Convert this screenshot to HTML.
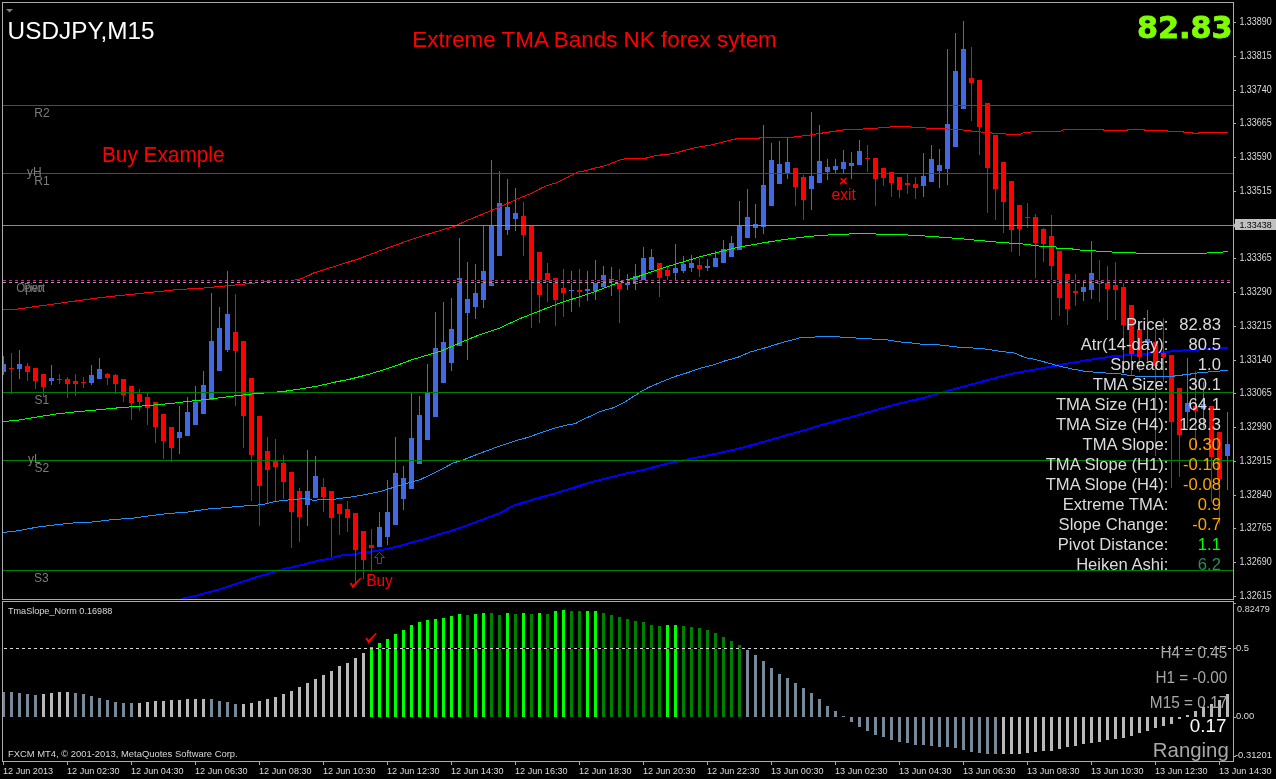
<!DOCTYPE html>
<html><head><meta charset="utf-8"><title>USDJPY,M15</title><style>html,body{margin:0;padding:0;background:#000;width:1276px;height:779px;overflow:hidden}</style></head><body>
<svg width="1276" height="779" viewBox="0 0 1276 779" style="display:block">
<defs><clipPath id="cm"><rect x="3" y="3" width="1230" height="596"/></clipPath><clipPath id="cs"><rect x="3" y="602" width="1230" height="159"/></clipPath></defs>
<rect x="0" y="0" width="1276" height="779" fill="#000"/>
<g clip-path="url(#cm)">
<polyline fill="none" stroke="#0000FF" stroke-width="2" shape-rendering="crispEdges" points="178.0,601.0 183.8,598.3 192.5,596.7 205.1,593.3 217.6,589.9 230.2,586.0 242.7,581.7 255.2,577.6 267.8,573.9 280.3,569.9 292.9,567.0 305.4,564.1 317.9,560.7 330.5,558.6 340.0,555.6 352.5,554.6 365.1,552.1 377.6,550.8 390.2,548.3 402.7,545.2 415.2,541.4 427.8,538.3 440.3,533.9 452.9,530.4 465.4,526.1 477.9,521.3 490.5,516.6 500.0,513.2 512.8,506.0 531.7,499.9 550.5,494.8 569.3,489.2 588.0,483.1 607.0,478.2 625.7,473.5 640.0,470.8 665.1,464.2 690.2,458.9 715.2,453.9 740.3,448.3 765.4,441.4 790.5,434.1 800.0,431.5 825.1,424.0 850.2,417.4 875.2,410.2 900.3,403.3 925.4,397.4 938.0,393.6 950.5,390.1 960.0,387.6 985.1,380.8 1010.2,374.1 1035.2,369.5 1060.3,364.9 1085.4,360.5 1110.5,356.6 1120.0,355.7 1140.0,354.4 1160.0,352.3 1180.0,350.7 1228.0,347.9"/>
<g shape-rendering="crispEdges">
<rect x="3" y="356" width="1" height="19" fill="#4169E1"/>
<rect x="1" y="364" width="5" height="8" fill="#4169E1"/>
<rect x="11" y="353" width="1" height="41" fill="#FF0000"/>
<rect x="9" y="368" width="5" height="1" fill="#FF0000"/>
<rect x="19" y="350" width="1" height="29" fill="#4169E1"/>
<rect x="17" y="364" width="5" height="5" fill="#4169E1"/>
<rect x="27" y="363" width="1" height="18" fill="#FF0000"/>
<rect x="25" y="366" width="5" height="6" fill="#FF0000"/>
<rect x="35" y="368" width="1" height="21" fill="#FF0000"/>
<rect x="33" y="368" width="5" height="13" fill="#FF0000"/>
<rect x="43" y="374" width="1" height="23" fill="#FF0000"/>
<rect x="41" y="374" width="5" height="13" fill="#FF0000"/>
<rect x="51" y="365" width="1" height="20" fill="#4169E1"/>
<rect x="49" y="378" width="5" height="3" fill="#4169E1"/>
<rect x="59" y="374" width="1" height="10" fill="#FF0000"/>
<rect x="57" y="379" width="5" height="1" fill="#FF0000"/>
<rect x="67" y="377" width="1" height="21" fill="#FF0000"/>
<rect x="65" y="379" width="5" height="5" fill="#FF0000"/>
<rect x="75" y="374" width="1" height="22" fill="#FF0000"/>
<rect x="73" y="381" width="5" height="3" fill="#FF0000"/>
<rect x="83" y="377" width="1" height="11" fill="#FF0000"/>
<rect x="81" y="382" width="5" height="1" fill="#FF0000"/>
<rect x="91" y="365" width="1" height="20" fill="#4169E1"/>
<rect x="89" y="375" width="5" height="8" fill="#4169E1"/>
<rect x="99" y="358" width="1" height="21" fill="#4169E1"/>
<rect x="97" y="369" width="5" height="10" fill="#4169E1"/>
<rect x="107" y="373" width="1" height="12" fill="#FF0000"/>
<rect x="105" y="374" width="5" height="4" fill="#FF0000"/>
<rect x="115" y="374" width="1" height="20" fill="#FF0000"/>
<rect x="113" y="375" width="5" height="9" fill="#FF0000"/>
<rect x="123" y="379" width="1" height="23" fill="#FF0000"/>
<rect x="121" y="379" width="5" height="16" fill="#FF0000"/>
<rect x="131" y="386" width="1" height="34" fill="#FF0000"/>
<rect x="129" y="386" width="5" height="17" fill="#FF0000"/>
<rect x="139" y="389" width="1" height="22" fill="#FF0000"/>
<rect x="137" y="394" width="5" height="8" fill="#FF0000"/>
<rect x="147" y="393" width="1" height="32" fill="#FF0000"/>
<rect x="145" y="397" width="5" height="11" fill="#FF0000"/>
<rect x="155" y="402" width="1" height="41" fill="#FF0000"/>
<rect x="153" y="402" width="5" height="25" fill="#FF0000"/>
<rect x="163" y="414" width="1" height="45" fill="#FF0000"/>
<rect x="161" y="414" width="5" height="27" fill="#FF0000"/>
<rect x="171" y="427" width="1" height="35" fill="#FF0000"/>
<rect x="169" y="427" width="5" height="21" fill="#FF0000"/>
<rect x="179" y="406" width="1" height="48" fill="#4169E1"/>
<rect x="177" y="432" width="5" height="6" fill="#4169E1"/>
<rect x="187" y="397" width="1" height="39" fill="#4169E1"/>
<rect x="185" y="412" width="5" height="24" fill="#4169E1"/>
<rect x="195" y="386" width="1" height="39" fill="#4169E1"/>
<rect x="193" y="402" width="5" height="23" fill="#4169E1"/>
<rect x="203" y="371" width="1" height="43" fill="#4169E1"/>
<rect x="201" y="385" width="5" height="29" fill="#4169E1"/>
<rect x="211" y="293" width="1" height="107" fill="#4169E1"/>
<rect x="209" y="341" width="5" height="59" fill="#4169E1"/>
<rect x="219" y="307" width="1" height="64" fill="#4169E1"/>
<rect x="217" y="328" width="5" height="43" fill="#4169E1"/>
<rect x="227" y="271" width="1" height="81" fill="#4169E1"/>
<rect x="225" y="314" width="5" height="36" fill="#4169E1"/>
<rect x="235" y="294" width="1" height="112" fill="#FF0000"/>
<rect x="233" y="332" width="5" height="19" fill="#FF0000"/>
<rect x="243" y="341" width="1" height="107" fill="#FF0000"/>
<rect x="241" y="341" width="5" height="75" fill="#FF0000"/>
<rect x="251" y="378" width="1" height="123" fill="#FF0000"/>
<rect x="249" y="378" width="5" height="77" fill="#FF0000"/>
<rect x="259" y="416" width="1" height="110" fill="#FF0000"/>
<rect x="257" y="416" width="5" height="70" fill="#FF0000"/>
<rect x="267" y="437" width="1" height="66" fill="#FF0000"/>
<rect x="265" y="451" width="5" height="19" fill="#FF0000"/>
<rect x="275" y="439" width="1" height="63" fill="#FF0000"/>
<rect x="273" y="461" width="5" height="6" fill="#FF0000"/>
<rect x="283" y="455" width="1" height="44" fill="#FF0000"/>
<rect x="281" y="463" width="5" height="19" fill="#FF0000"/>
<rect x="291" y="472" width="1" height="76" fill="#FF0000"/>
<rect x="289" y="472" width="5" height="40" fill="#FF0000"/>
<rect x="299" y="488" width="1" height="54" fill="#FF0000"/>
<rect x="297" y="491" width="5" height="26" fill="#FF0000"/>
<rect x="307" y="450" width="1" height="76" fill="#4169E1"/>
<rect x="305" y="491" width="5" height="14" fill="#4169E1"/>
<rect x="315" y="456" width="1" height="42" fill="#4169E1"/>
<rect x="313" y="476" width="5" height="22" fill="#4169E1"/>
<rect x="323" y="478" width="1" height="34" fill="#FF0000"/>
<rect x="321" y="487" width="5" height="10" fill="#FF0000"/>
<rect x="331" y="491" width="1" height="66" fill="#FF0000"/>
<rect x="329" y="491" width="5" height="27" fill="#FF0000"/>
<rect x="339" y="504" width="1" height="31" fill="#FF0000"/>
<rect x="337" y="504" width="5" height="10" fill="#FF0000"/>
<rect x="347" y="501" width="1" height="31" fill="#FF0000"/>
<rect x="345" y="509" width="5" height="9" fill="#FF0000"/>
<rect x="355" y="513" width="1" height="70" fill="#FF0000"/>
<rect x="353" y="513" width="5" height="37" fill="#FF0000"/>
<rect x="363" y="531" width="1" height="48" fill="#FF0000"/>
<rect x="361" y="531" width="5" height="29" fill="#FF0000"/>
<rect x="371" y="529" width="1" height="43" fill="#FF0000"/>
<rect x="369" y="545" width="5" height="3" fill="#FF0000"/>
<rect x="379" y="512" width="1" height="35" fill="#4169E1"/>
<rect x="377" y="527" width="5" height="20" fill="#4169E1"/>
<rect x="387" y="480" width="1" height="65" fill="#4169E1"/>
<rect x="385" y="512" width="5" height="25" fill="#4169E1"/>
<rect x="395" y="437" width="1" height="88" fill="#4169E1"/>
<rect x="393" y="473" width="5" height="52" fill="#4169E1"/>
<rect x="403" y="466" width="1" height="44" fill="#4169E1"/>
<rect x="401" y="478" width="5" height="21" fill="#4169E1"/>
<rect x="411" y="393" width="1" height="96" fill="#4169E1"/>
<rect x="409" y="438" width="5" height="51" fill="#4169E1"/>
<rect x="419" y="396" width="1" height="68" fill="#4169E1"/>
<rect x="417" y="415" width="5" height="49" fill="#4169E1"/>
<rect x="427" y="364" width="1" height="76" fill="#4169E1"/>
<rect x="425" y="393" width="5" height="47" fill="#4169E1"/>
<rect x="435" y="312" width="1" height="105" fill="#4169E1"/>
<rect x="433" y="348" width="5" height="69" fill="#4169E1"/>
<rect x="443" y="302" width="1" height="81" fill="#4169E1"/>
<rect x="441" y="342" width="5" height="41" fill="#4169E1"/>
<rect x="451" y="298" width="1" height="73" fill="#4169E1"/>
<rect x="449" y="329" width="5" height="34" fill="#4169E1"/>
<rect x="459" y="238" width="1" height="108" fill="#4169E1"/>
<rect x="457" y="278" width="5" height="68" fill="#4169E1"/>
<rect x="467" y="262" width="1" height="98" fill="#4169E1"/>
<rect x="465" y="299" width="5" height="14" fill="#4169E1"/>
<rect x="475" y="264" width="1" height="55" fill="#4169E1"/>
<rect x="473" y="293" width="5" height="14" fill="#4169E1"/>
<rect x="483" y="226" width="1" height="82" fill="#4169E1"/>
<rect x="481" y="271" width="5" height="29" fill="#4169E1"/>
<rect x="491" y="160" width="1" height="126" fill="#4169E1"/>
<rect x="489" y="225" width="5" height="61" fill="#4169E1"/>
<rect x="499" y="171" width="1" height="85" fill="#4169E1"/>
<rect x="497" y="203" width="5" height="53" fill="#4169E1"/>
<rect x="507" y="179" width="1" height="56" fill="#4169E1"/>
<rect x="505" y="207" width="5" height="23" fill="#4169E1"/>
<rect x="515" y="188" width="1" height="43" fill="#4169E1"/>
<rect x="513" y="213" width="5" height="6" fill="#4169E1"/>
<rect x="523" y="202" width="1" height="54" fill="#FF0000"/>
<rect x="521" y="216" width="5" height="19" fill="#FF0000"/>
<rect x="531" y="225" width="1" height="103" fill="#FF0000"/>
<rect x="529" y="225" width="5" height="55" fill="#FF0000"/>
<rect x="539" y="252" width="1" height="71" fill="#FF0000"/>
<rect x="537" y="252" width="5" height="43" fill="#FF0000"/>
<rect x="547" y="263" width="1" height="39" fill="#FF0000"/>
<rect x="545" y="273" width="5" height="10" fill="#FF0000"/>
<rect x="555" y="278" width="1" height="48" fill="#FF0000"/>
<rect x="553" y="278" width="5" height="22" fill="#FF0000"/>
<rect x="563" y="269" width="1" height="48" fill="#FF0000"/>
<rect x="561" y="288" width="5" height="5" fill="#FF0000"/>
<rect x="571" y="271" width="1" height="41" fill="#4169E1"/>
<rect x="569" y="290" width="5" height="1" fill="#4169E1"/>
<rect x="579" y="269" width="1" height="38" fill="#FF0000"/>
<rect x="577" y="290" width="5" height="2" fill="#FF0000"/>
<rect x="587" y="271" width="1" height="30" fill="#4169E1"/>
<rect x="585" y="289" width="5" height="2" fill="#4169E1"/>
<rect x="595" y="260" width="1" height="40" fill="#4169E1"/>
<rect x="593" y="283" width="5" height="8" fill="#4169E1"/>
<rect x="603" y="266" width="1" height="21" fill="#4169E1"/>
<rect x="601" y="275" width="5" height="12" fill="#4169E1"/>
<rect x="611" y="267" width="1" height="29" fill="#4169E1"/>
<rect x="609" y="279" width="5" height="3" fill="#4169E1"/>
<rect x="619" y="269" width="1" height="54" fill="#FF0000"/>
<rect x="617" y="282" width="5" height="7" fill="#FF0000"/>
<rect x="627" y="274" width="1" height="16" fill="#4169E1"/>
<rect x="625" y="283" width="5" height="2" fill="#4169E1"/>
<rect x="635" y="264" width="1" height="26" fill="#4169E1"/>
<rect x="633" y="276" width="5" height="8" fill="#4169E1"/>
<rect x="643" y="247" width="1" height="33" fill="#4169E1"/>
<rect x="641" y="258" width="5" height="22" fill="#4169E1"/>
<rect x="651" y="249" width="1" height="21" fill="#4169E1"/>
<rect x="649" y="257" width="5" height="13" fill="#4169E1"/>
<rect x="659" y="263" width="1" height="34" fill="#FF0000"/>
<rect x="657" y="263" width="5" height="15" fill="#FF0000"/>
<rect x="667" y="267" width="1" height="14" fill="#FF0000"/>
<rect x="665" y="270" width="5" height="6" fill="#FF0000"/>
<rect x="675" y="244" width="1" height="37" fill="#4169E1"/>
<rect x="673" y="268" width="5" height="5" fill="#4169E1"/>
<rect x="683" y="256" width="1" height="17" fill="#4169E1"/>
<rect x="681" y="264" width="5" height="7" fill="#4169E1"/>
<rect x="691" y="255" width="1" height="17" fill="#4169E1"/>
<rect x="689" y="263" width="5" height="5" fill="#4169E1"/>
<rect x="699" y="258" width="1" height="19" fill="#FF0000"/>
<rect x="697" y="265" width="5" height="4" fill="#FF0000"/>
<rect x="707" y="259" width="1" height="12" fill="#4169E1"/>
<rect x="705" y="266" width="5" height="2" fill="#4169E1"/>
<rect x="715" y="251" width="1" height="16" fill="#4169E1"/>
<rect x="713" y="258" width="5" height="9" fill="#4169E1"/>
<rect x="723" y="240" width="1" height="23" fill="#4169E1"/>
<rect x="721" y="249" width="5" height="14" fill="#4169E1"/>
<rect x="731" y="236" width="1" height="21" fill="#4169E1"/>
<rect x="729" y="243" width="5" height="14" fill="#4169E1"/>
<rect x="739" y="201" width="1" height="49" fill="#4169E1"/>
<rect x="737" y="225" width="5" height="25" fill="#4169E1"/>
<rect x="747" y="189" width="1" height="49" fill="#4169E1"/>
<rect x="745" y="217" width="5" height="21" fill="#4169E1"/>
<rect x="755" y="204" width="1" height="34" fill="#4169E1"/>
<rect x="753" y="224" width="5" height="4" fill="#4169E1"/>
<rect x="763" y="125" width="1" height="109" fill="#4169E1"/>
<rect x="761" y="185" width="5" height="42" fill="#4169E1"/>
<rect x="771" y="143" width="1" height="63" fill="#4169E1"/>
<rect x="769" y="160" width="5" height="46" fill="#4169E1"/>
<rect x="779" y="141" width="1" height="43" fill="#4169E1"/>
<rect x="777" y="164" width="5" height="20" fill="#4169E1"/>
<rect x="787" y="138" width="1" height="41" fill="#4169E1"/>
<rect x="785" y="162" width="5" height="11" fill="#4169E1"/>
<rect x="795" y="168" width="1" height="38" fill="#FF0000"/>
<rect x="793" y="168" width="5" height="19" fill="#FF0000"/>
<rect x="803" y="175" width="1" height="45" fill="#FF0000"/>
<rect x="801" y="177" width="5" height="23" fill="#FF0000"/>
<rect x="811" y="112" width="1" height="98" fill="#4169E1"/>
<rect x="809" y="176" width="5" height="13" fill="#4169E1"/>
<rect x="819" y="125" width="1" height="58" fill="#4169E1"/>
<rect x="817" y="161" width="5" height="22" fill="#4169E1"/>
<rect x="827" y="159" width="1" height="21" fill="#4169E1"/>
<rect x="825" y="167" width="5" height="5" fill="#4169E1"/>
<rect x="835" y="159" width="1" height="14" fill="#4169E1"/>
<rect x="833" y="166" width="5" height="4" fill="#4169E1"/>
<rect x="843" y="150" width="1" height="23" fill="#4169E1"/>
<rect x="841" y="162" width="5" height="7" fill="#4169E1"/>
<rect x="851" y="152" width="1" height="27" fill="#4169E1"/>
<rect x="849" y="163" width="5" height="3" fill="#4169E1"/>
<rect x="859" y="140" width="1" height="25" fill="#4169E1"/>
<rect x="857" y="151" width="5" height="14" fill="#4169E1"/>
<rect x="867" y="145" width="1" height="27" fill="#FF0000"/>
<rect x="865" y="158" width="5" height="1" fill="#FF0000"/>
<rect x="875" y="158" width="1" height="48" fill="#FF0000"/>
<rect x="873" y="158" width="5" height="21" fill="#FF0000"/>
<rect x="883" y="168" width="1" height="18" fill="#FF0000"/>
<rect x="881" y="168" width="5" height="10" fill="#FF0000"/>
<rect x="891" y="172" width="1" height="25" fill="#FF0000"/>
<rect x="889" y="172" width="5" height="11" fill="#FF0000"/>
<rect x="899" y="177" width="1" height="21" fill="#FF0000"/>
<rect x="897" y="177" width="5" height="13" fill="#FF0000"/>
<rect x="907" y="174" width="1" height="20" fill="#FF0000"/>
<rect x="905" y="183" width="5" height="2" fill="#FF0000"/>
<rect x="915" y="177" width="1" height="22" fill="#FF0000"/>
<rect x="913" y="184" width="5" height="4" fill="#FF0000"/>
<rect x="923" y="153" width="1" height="44" fill="#4169E1"/>
<rect x="921" y="176" width="5" height="10" fill="#4169E1"/>
<rect x="931" y="145" width="1" height="37" fill="#4169E1"/>
<rect x="929" y="159" width="5" height="23" fill="#4169E1"/>
<rect x="939" y="149" width="1" height="39" fill="#4169E1"/>
<rect x="937" y="165" width="5" height="6" fill="#4169E1"/>
<rect x="947" y="49" width="1" height="136" fill="#4169E1"/>
<rect x="945" y="124" width="5" height="45" fill="#4169E1"/>
<rect x="955" y="33" width="1" height="114" fill="#4169E1"/>
<rect x="953" y="71" width="5" height="76" fill="#4169E1"/>
<rect x="963" y="21" width="1" height="88" fill="#4169E1"/>
<rect x="961" y="49" width="5" height="60" fill="#4169E1"/>
<rect x="971" y="47" width="1" height="74" fill="#FF0000"/>
<rect x="969" y="78" width="5" height="5" fill="#FF0000"/>
<rect x="979" y="80" width="1" height="75" fill="#FF0000"/>
<rect x="977" y="80" width="5" height="47" fill="#FF0000"/>
<rect x="987" y="103" width="1" height="110" fill="#FF0000"/>
<rect x="985" y="103" width="5" height="65" fill="#FF0000"/>
<rect x="995" y="135" width="1" height="85" fill="#FF0000"/>
<rect x="993" y="135" width="5" height="54" fill="#FF0000"/>
<rect x="1003" y="162" width="1" height="71" fill="#FF0000"/>
<rect x="1001" y="162" width="5" height="40" fill="#FF0000"/>
<rect x="1011" y="181" width="1" height="71" fill="#FF0000"/>
<rect x="1009" y="181" width="5" height="49" fill="#FF0000"/>
<rect x="1019" y="205" width="1" height="51" fill="#FF0000"/>
<rect x="1017" y="205" width="5" height="24" fill="#FF0000"/>
<rect x="1027" y="203" width="1" height="25" fill="#FF0000"/>
<rect x="1025" y="217" width="5" height="1" fill="#FF0000"/>
<rect x="1035" y="214" width="1" height="64" fill="#FF0000"/>
<rect x="1033" y="217" width="5" height="26" fill="#FF0000"/>
<rect x="1043" y="228" width="1" height="34" fill="#FF0000"/>
<rect x="1041" y="229" width="5" height="15" fill="#FF0000"/>
<rect x="1051" y="215" width="1" height="105" fill="#FF0000"/>
<rect x="1049" y="236" width="5" height="30" fill="#FF0000"/>
<rect x="1059" y="251" width="1" height="65" fill="#FF0000"/>
<rect x="1057" y="251" width="5" height="47" fill="#FF0000"/>
<rect x="1067" y="274" width="1" height="51" fill="#FF0000"/>
<rect x="1065" y="274" width="5" height="35" fill="#FF0000"/>
<rect x="1075" y="274" width="1" height="32" fill="#FF0000"/>
<rect x="1073" y="291" width="5" height="2" fill="#FF0000"/>
<rect x="1083" y="281" width="1" height="20" fill="#4169E1"/>
<rect x="1081" y="287" width="5" height="5" fill="#4169E1"/>
<rect x="1091" y="241" width="1" height="58" fill="#4169E1"/>
<rect x="1089" y="273" width="5" height="17" fill="#4169E1"/>
<rect x="1099" y="260" width="1" height="42" fill="#FF0000"/>
<rect x="1097" y="281" width="5" height="3" fill="#FF0000"/>
<rect x="1107" y="266" width="1" height="54" fill="#FF0000"/>
<rect x="1105" y="283" width="5" height="6" fill="#FF0000"/>
<rect x="1115" y="262" width="1" height="58" fill="#FF0000"/>
<rect x="1113" y="285" width="5" height="5" fill="#FF0000"/>
<rect x="1123" y="283" width="1" height="79" fill="#FF0000"/>
<rect x="1121" y="287" width="5" height="38" fill="#FF0000"/>
<rect x="1131" y="305" width="1" height="70" fill="#FF0000"/>
<rect x="1129" y="305" width="5" height="49" fill="#FF0000"/>
<rect x="1139" y="328" width="1" height="44" fill="#FF0000"/>
<rect x="1137" y="329" width="5" height="28" fill="#FF0000"/>
<rect x="1147" y="310" width="1" height="51" fill="#4169E1"/>
<rect x="1145" y="339" width="5" height="4" fill="#4169E1"/>
<rect x="1155" y="329" width="1" height="127" fill="#FF0000"/>
<rect x="1153" y="342" width="5" height="24" fill="#FF0000"/>
<rect x="1163" y="318" width="1" height="64" fill="#FF0000"/>
<rect x="1161" y="353" width="5" height="4" fill="#FF0000"/>
<rect x="1171" y="355" width="1" height="133" fill="#FF0000"/>
<rect x="1169" y="355" width="5" height="67" fill="#FF0000"/>
<rect x="1179" y="388" width="1" height="89" fill="#FF0000"/>
<rect x="1177" y="388" width="5" height="47" fill="#FF0000"/>
<rect x="1187" y="358" width="1" height="70" fill="#4169E1"/>
<rect x="1185" y="403" width="5" height="9" fill="#4169E1"/>
<rect x="1195" y="371" width="1" height="79" fill="#FF0000"/>
<rect x="1193" y="406" width="5" height="5" fill="#FF0000"/>
<rect x="1203" y="382" width="1" height="46" fill="#4169E1"/>
<rect x="1201" y="404" width="5" height="5" fill="#4169E1"/>
<rect x="1211" y="406" width="1" height="96" fill="#FF0000"/>
<rect x="1209" y="406" width="5" height="51" fill="#FF0000"/>
<rect x="1219" y="432" width="1" height="92" fill="#FF0000"/>
<rect x="1217" y="432" width="5" height="47" fill="#FF0000"/>
<rect x="1227" y="412" width="1" height="78" fill="#4169E1"/>
<rect x="1225" y="444" width="5" height="12" fill="#4169E1"/>
</g>
<g fill="none" stroke-width="1" shape-rendering="crispEdges">
<polyline stroke="#FF0000" points="2.0,309.4 15.0,309.4 100.0,297.6 180.0,289.3 200.0,288.4 240.0,284.5 251.0,283.5 259.0,282.5 267.0,281.5 278.0,280.5 292.0,280.5 298.0,279.5 302.0,278.3 306.0,276.5 310.0,274.8 314.0,272.8 320.0,271.0 330.0,267.8 340.0,264.8 350.0,261.5 360.0,258.3 375.4,252.5 391.0,246.7 406.7,241.2 422.4,235.8 438.0,231.2 454.0,226.4 467.0,220.5 480.0,215.2 492.5,210.0 505.1,204.6 517.6,198.9 530.2,193.9 542.7,187.4 550.2,184.5 555.2,183.3 567.8,177.0 577.8,172.0 586.6,170.5 592.9,168.6 605.4,165.7 617.9,160.7 625.5,158.6 645.0,158.5 648.0,157.5 657.0,155.3 669.0,154.3 673.0,153.4 681.0,151.4 689.0,149.3 697.0,147.3 703.0,146.3 709.0,145.4 717.0,143.4 725.0,141.4 729.0,140.4 735.0,139.4 736.0,138.5 759.0,138.5 760.0,137.5 790.0,137.5 809.0,135.1 823.2,132.9 837.3,130.9 843.0,130.0 871.2,128.6 893.8,126.7 902.3,126.4 927.7,128.1 944.7,128.9 961.6,129.8 966.0,130.5 972.9,131.2 989.9,132.9 1000.0,133.5 1010.0,134.4 1020.0,134.4 1024.0,132.6 1039.0,131.3 1060.0,131.3 1065.0,129.4 1103.0,129.4 1104.0,130.3 1127.0,130.3 1128.0,129.4 1144.0,129.4 1145.0,130.3 1167.0,130.3 1168.0,131.4 1183.0,131.4 1184.0,132.4 1192.0,132.4 1193.0,133.5 1198.0,133.5 1199.0,132.4 1228.0,132.4"/>
<polyline stroke="#00FF00" points="2.0,421.6 18.8,420.1 37.6,416.9 56.4,414.0 75.2,411.9 94.0,410.2 112.8,408.3 131.7,406.8 150.5,405.3 169.3,403.6 188.0,401.5 207.0,399.3 225.7,397.1 240.0,395.3 255.7,393.6 271.3,392.5 283.9,391.4 302.7,388.6 318.4,385.9 334.0,382.3 349.7,379.2 365.4,375.3 381.0,370.6 396.7,365.4 412.4,359.6 428.0,354.9 440.0,351.5 470.0,338.6 480.0,334.6 500.0,327.9 520.0,318.6 560.0,303.0 575.7,298.0 591.3,293.0 607.0,287.0 622.7,281.1 638.4,276.4 654.0,271.0 669.7,265.9 685.4,261.2 701.0,256.5 716.7,252.5 732.4,248.6 748.0,245.5 760.0,243.4 780.7,240.0 801.0,237.3 821.5,235.3 841.9,234.3 862.2,233.4 882.6,234.3 903.0,234.7 923.4,235.9 943.7,237.3 964.0,239.0 984.5,241.0 1000.0,242.4 1020.0,243.7 1040.0,246.1 1055.5,246.1 1056.5,248.1 1071.5,248.1 1072.5,249.2 1079.5,249.2 1080.5,250.3 1095.5,250.3 1096.5,251.5 1111.5,251.5 1112.5,252.4 1135.5,252.4 1136.5,253.3 1206.5,253.3 1207.5,252.4 1222.5,252.4 1223.5,251.4 1228.0,251.4"/>
<polyline stroke="#1E90FF" points="2.0,532.6 18.8,530.7 37.6,527.0 56.4,524.7 75.2,522.8 94.0,521.9 112.8,519.5 131.7,518.3 150.5,515.7 169.3,513.4 188.0,512.0 207.0,509.1 225.7,507.6 240.0,506.3 262.4,504.7 276.2,501.3 294.7,499.3 307.0,498.5 312.3,500.2 334.0,499.3 350.8,497.0 364.7,494.7 380.0,491.6 400.0,485.4 420.0,479.7 440.0,470.2 452.5,463.3 465.1,459.2 477.6,454.2 490.2,449.5 502.7,445.1 515.2,440.8 527.8,437.4 540.3,432.9 552.9,428.6 565.4,425.3 575.4,423.6 581.7,420.1 590.5,416.1 600.0,411.5 612.5,408.0 625.1,402.1 631.3,397.7 637.6,394.0 643.9,389.9 650.2,386.7 662.7,381.4 675.2,376.4 687.8,372.6 700.3,368.2 712.9,365.1 725.4,360.7 737.9,357.3 750.5,351.9 760.0,349.3 769.4,346.6 781.9,342.6 794.5,339.4 801.0,337.4 814.5,337.4 815.5,336.5 839.5,336.5 840.5,337.4 855.5,337.4 856.5,338.5 871.5,338.5 872.5,339.5 885.4,339.5 890.0,340.5 896.4,341.4 904.2,342.5 919.5,343.5 920.5,344.4 935.5,344.5 944.2,345.5 952.0,346.4 960.0,347.3 967.5,347.6 983.8,348.8 1000.1,351.3 1015.2,353.2 1025.2,357.6 1035.2,359.5 1047.8,362.9 1060.3,366.4 1072.9,369.1 1085.4,371.4 1097.9,372.4 1110.5,373.3 1120.0,373.8 1130.0,375.5 1140.0,376.5 1174.0,376.5 1175.0,375.5 1182.0,375.5 1183.0,374.5 1190.0,374.5 1191.0,373.5 1228.0,370.3"/>
</g>
<g shape-rendering="crispEdges">
<rect x="3" y="105" width="1230" height="1" fill="#B22222"/>
<rect x="3" y="173" width="1230" height="1" fill="#B22222"/>
<rect x="3" y="392" width="1230" height="1" fill="#008000"/>
<rect x="3" y="460" width="1230" height="1" fill="#008000"/>
<rect x="3" y="570" width="1230" height="1" fill="#008000"/>
<rect x="3" y="225" width="1230" height="1" fill="#6A8EC8"/>
<rect x="3" y="280" width="1230" height="1" fill="#000"/>
<rect x="3" y="282" width="1230" height="1" fill="#000"/>
<line x1="3" y1="280.5" x2="1233" y2="280.5" stroke="#D81E9E" stroke-width="1" stroke-dasharray="3 3"/>
<line x1="3" y1="282.5" x2="1233" y2="282.5" stroke="#A0A0A0" stroke-width="1" stroke-dasharray="3 3"/>
</g>
<g font-family="'Liberation Sans', Arial, sans-serif" font-size="12px" fill="#7C7C7C">
<text x="34.3" y="117.2">R2</text>
<text x="27.1" y="175.9">yH</text>
<text x="34.3" y="185.0">R1</text>
<text x="34.4" y="404.0">S1</text>
<text x="28.0" y="463.4">yL</text>
<text x="34.4" y="471.8">S2</text>
<text x="34.0" y="581.8">S3</text>
<text x="16.3" y="291.8" fill="#747474" textLength="28" lengthAdjust="spacingAndGlyphs">Open</text>
<text x="24" y="291.8" fill="#747474" textLength="21" lengthAdjust="spacingAndGlyphs">Pivot</text>
</g>
<path transform="translate(349.6,578.0)" d="M0.2,5.6 C0.8,4.6 1.6,4.6 2.2,5.2 L3.4,7.0 L10.6,-0.2 L11.6,0.6 L3.8,9.9 L3.0,10.1 Z" fill="#FF0000"/>
<g fill="none" stroke="#FF0000" stroke-width="1">
<path d="M379.5,552.5 L384.5,557.5 L381.5,557.5 L381.5,563.5 L377.5,563.5 L377.5,557.5 L374.5,557.5 Z"/>
</g>
<g font-family="'Liberation Sans', Arial, sans-serif" fill="#FF0000">
<text x="366.2" y="585.8" font-size="16.4px" textLength="26.5" lengthAdjust="spacingAndGlyphs">Buy</text>
<text x="831.6" y="200.4" font-size="15.6px">exit</text>
</g>
<path d="M840.5,178.5 C842,179 843,180.5 843.5,181 C844.5,180 845.5,178.8 846.5,178.3 M840,184 C841.5,183 842.5,182 843.5,181 C844.5,182 845.5,183.3 847,183.6" fill="none" stroke="#FF0000" stroke-width="1.7"/>
<text x="412.3" y="46.6" font-family="'Liberation Sans', Arial, sans-serif" font-size="22.7px" fill="#FF0000" textLength="364.5" lengthAdjust="spacingAndGlyphs">Extreme TMA Bands NK forex sytem</text>
<text x="102" y="161.7" font-family="'Liberation Sans', Arial, sans-serif" font-size="22.7px" fill="#FF0000" textLength="122.5" lengthAdjust="spacingAndGlyphs">Buy Example</text>
<g font-family="'Liberation Sans', Arial, sans-serif" font-size="16.6px" text-anchor="end">
<text x="1168.4" y="329.7" fill="#DCDCDC">Price:</text>
<text x="1220.9" y="329.7" fill="#DCDCDC">82.83</text>
<text x="1168.4" y="349.7" fill="#DCDCDC">Atr(14-day):</text>
<text x="1220.9" y="349.7" fill="#DCDCDC">80.5</text>
<text x="1168.4" y="369.7" fill="#DCDCDC">Spread:</text>
<text x="1220.9" y="369.7" fill="#DCDCDC">1.0</text>
<text x="1168.4" y="389.7" fill="#DCDCDC">TMA Size:</text>
<text x="1220.9" y="389.7" fill="#DCDCDC">30.1</text>
<text x="1168.4" y="409.7" fill="#DCDCDC">TMA Size (H1):</text>
<text x="1220.9" y="409.7" fill="#DCDCDC">64.1</text>
<text x="1168.4" y="429.7" fill="#DCDCDC">TMA Size (H4):</text>
<text x="1220.9" y="429.7" fill="#DCDCDC">128.3</text>
<text x="1168.4" y="449.7" fill="#DCDCDC">TMA Slope:</text>
<text x="1220.9" y="449.7" fill="#FFA500">0.30</text>
<text x="1168.4" y="469.7" fill="#DCDCDC">TMA Slope (H1):</text>
<text x="1220.9" y="469.7" fill="#FFA500">-0.16</text>
<text x="1168.4" y="489.7" fill="#DCDCDC">TMA Slope (H4):</text>
<text x="1220.9" y="489.7" fill="#FFA500">-0.08</text>
<text x="1168.4" y="509.7" fill="#DCDCDC">Extreme TMA:</text>
<text x="1220.9" y="509.7" fill="#FFA500">0.9</text>
<text x="1168.4" y="529.7" fill="#DCDCDC">Slope Change:</text>
<text x="1220.9" y="529.7" fill="#FFA500">-0.7</text>
<text x="1168.4" y="549.7" fill="#DCDCDC">Pivot Distance:</text>
<text x="1220.9" y="549.7" fill="#00FF00">1.1</text>
<text x="1168.4" y="569.7" fill="#DCDCDC">Heiken Ashi:</text>
<text x="1220.9" y="569.7" fill="#2E8B57">6.2</text>
</g>
</g>
<path d="M6,9 L13,9 L9.5,12.5 Z" fill="#808080"/>
<text x="7.6" y="38.8" font-family="'Liberation Sans', Arial, sans-serif" font-size="24.4px" fill="#FFFFFF" textLength="147" lengthAdjust="spacingAndGlyphs">USDJPY,M15</text>
<text x="1136.9" y="38.4" font-family="'DejaVu Sans', sans-serif" font-weight="bold" font-size="30.6px" fill="#7FFF00" stroke="#7FFF00" stroke-width="0.8" textLength="95.7" lengthAdjust="spacingAndGlyphs">82.83</text>
<g clip-path="url(#cs)">
<g shape-rendering="crispEdges">
<rect x="2" y="692" width="3" height="25" fill="#778899"/>
<rect x="10" y="692" width="3" height="25" fill="#778899"/>
<rect x="18" y="693" width="3" height="24" fill="#778899"/>
<rect x="26" y="694" width="3" height="23" fill="#778899"/>
<rect x="34" y="695" width="3" height="22" fill="#778899"/>
<rect x="42" y="694" width="3" height="23" fill="#B8B8B8"/>
<rect x="50" y="693" width="3" height="24" fill="#B8B8B8"/>
<rect x="58" y="692" width="3" height="25" fill="#B8B8B8"/>
<rect x="66" y="692" width="3" height="25" fill="#B8B8B8"/>
<rect x="74" y="693" width="3" height="24" fill="#778899"/>
<rect x="82" y="694" width="3" height="23" fill="#778899"/>
<rect x="90" y="696" width="3" height="21" fill="#778899"/>
<rect x="98" y="698" width="3" height="19" fill="#778899"/>
<rect x="106" y="700" width="3" height="17" fill="#778899"/>
<rect x="114" y="702" width="3" height="15" fill="#778899"/>
<rect x="122" y="703" width="3" height="14" fill="#778899"/>
<rect x="130" y="703" width="3" height="14" fill="#778899"/>
<rect x="138" y="703" width="3" height="14" fill="#B8B8B8"/>
<rect x="146" y="702" width="3" height="15" fill="#B8B8B8"/>
<rect x="154" y="701" width="3" height="16" fill="#B8B8B8"/>
<rect x="162" y="701" width="3" height="16" fill="#B8B8B8"/>
<rect x="170" y="700" width="3" height="17" fill="#B8B8B8"/>
<rect x="178" y="700" width="3" height="17" fill="#B8B8B8"/>
<rect x="186" y="699" width="3" height="18" fill="#B8B8B8"/>
<rect x="194" y="699" width="3" height="18" fill="#B8B8B8"/>
<rect x="202" y="699" width="3" height="18" fill="#B8B8B8"/>
<rect x="210" y="699" width="3" height="18" fill="#778899"/>
<rect x="218" y="701" width="3" height="16" fill="#778899"/>
<rect x="226" y="702" width="3" height="15" fill="#778899"/>
<rect x="234" y="704" width="3" height="13" fill="#778899"/>
<rect x="242" y="704" width="3" height="13" fill="#B8B8B8"/>
<rect x="250" y="703" width="3" height="14" fill="#B8B8B8"/>
<rect x="258" y="701" width="3" height="16" fill="#B8B8B8"/>
<rect x="266" y="699" width="3" height="18" fill="#B8B8B8"/>
<rect x="274" y="697" width="3" height="20" fill="#B8B8B8"/>
<rect x="282" y="694" width="3" height="23" fill="#B8B8B8"/>
<rect x="290" y="691" width="3" height="26" fill="#B8B8B8"/>
<rect x="298" y="687" width="3" height="30" fill="#B8B8B8"/>
<rect x="306" y="683" width="3" height="34" fill="#B8B8B8"/>
<rect x="314" y="679" width="3" height="38" fill="#B8B8B8"/>
<rect x="322" y="675" width="3" height="42" fill="#B8B8B8"/>
<rect x="330" y="671" width="3" height="46" fill="#B8B8B8"/>
<rect x="338" y="666" width="3" height="51" fill="#B8B8B8"/>
<rect x="346" y="663" width="3" height="54" fill="#B8B8B8"/>
<rect x="354" y="658" width="3" height="59" fill="#B8B8B8"/>
<rect x="362" y="653" width="3" height="64" fill="#B8B8B8"/>
<rect x="370" y="647" width="3" height="70" fill="#00FF00"/>
<rect x="378" y="643" width="3" height="74" fill="#00FF00"/>
<rect x="386" y="639" width="3" height="78" fill="#00FF00"/>
<rect x="394" y="634" width="3" height="83" fill="#00FF00"/>
<rect x="402" y="630" width="3" height="87" fill="#00FF00"/>
<rect x="410" y="625" width="3" height="92" fill="#00FF00"/>
<rect x="418" y="622" width="3" height="95" fill="#00FF00"/>
<rect x="426" y="620" width="3" height="97" fill="#00FF00"/>
<rect x="434" y="619" width="3" height="98" fill="#00FF00"/>
<rect x="442" y="618" width="3" height="99" fill="#00FF00"/>
<rect x="450" y="616" width="3" height="101" fill="#00FF00"/>
<rect x="458" y="614" width="3" height="103" fill="#00FF00"/>
<rect x="466" y="615" width="3" height="102" fill="#008000"/>
<rect x="474" y="614" width="3" height="103" fill="#00FF00"/>
<rect x="482" y="613" width="3" height="104" fill="#00FF00"/>
<rect x="490" y="613" width="3" height="104" fill="#008000"/>
<rect x="498" y="615" width="3" height="102" fill="#008000"/>
<rect x="506" y="613" width="3" height="104" fill="#00FF00"/>
<rect x="514" y="614" width="3" height="103" fill="#008000"/>
<rect x="522" y="613" width="3" height="104" fill="#00FF00"/>
<rect x="530" y="614" width="3" height="103" fill="#008000"/>
<rect x="538" y="613" width="3" height="104" fill="#00FF00"/>
<rect x="546" y="614" width="3" height="103" fill="#008000"/>
<rect x="554" y="611" width="3" height="106" fill="#00FF00"/>
<rect x="562" y="610" width="3" height="107" fill="#00FF00"/>
<rect x="570" y="611" width="3" height="106" fill="#008000"/>
<rect x="578" y="611" width="3" height="106" fill="#008000"/>
<rect x="586" y="611" width="3" height="106" fill="#00FF00"/>
<rect x="594" y="611" width="3" height="106" fill="#00FF00"/>
<rect x="602" y="613" width="3" height="104" fill="#008000"/>
<rect x="610" y="615" width="3" height="102" fill="#008000"/>
<rect x="618" y="617" width="3" height="100" fill="#008000"/>
<rect x="626" y="619" width="3" height="98" fill="#008000"/>
<rect x="634" y="621" width="3" height="96" fill="#008000"/>
<rect x="642" y="622" width="3" height="95" fill="#008000"/>
<rect x="650" y="625" width="3" height="92" fill="#008000"/>
<rect x="658" y="626" width="3" height="91" fill="#008000"/>
<rect x="666" y="625" width="3" height="92" fill="#00FF00"/>
<rect x="674" y="625" width="3" height="92" fill="#00FF00"/>
<rect x="682" y="626" width="3" height="91" fill="#008000"/>
<rect x="690" y="627" width="3" height="90" fill="#008000"/>
<rect x="698" y="628" width="3" height="89" fill="#008000"/>
<rect x="706" y="630" width="3" height="87" fill="#008000"/>
<rect x="714" y="633" width="3" height="84" fill="#008000"/>
<rect x="722" y="637" width="3" height="80" fill="#008000"/>
<rect x="730" y="641" width="3" height="76" fill="#008000"/>
<rect x="738" y="645" width="3" height="72" fill="#008000"/>
<rect x="746" y="650" width="3" height="67" fill="#778899"/>
<rect x="754" y="655" width="3" height="62" fill="#778899"/>
<rect x="762" y="661" width="3" height="56" fill="#778899"/>
<rect x="770" y="668" width="3" height="49" fill="#778899"/>
<rect x="778" y="674" width="3" height="43" fill="#778899"/>
<rect x="786" y="678" width="3" height="39" fill="#778899"/>
<rect x="794" y="683" width="3" height="34" fill="#778899"/>
<rect x="802" y="688" width="3" height="29" fill="#778899"/>
<rect x="810" y="693" width="3" height="24" fill="#778899"/>
<rect x="818" y="699" width="3" height="18" fill="#778899"/>
<rect x="826" y="706" width="3" height="11" fill="#778899"/>
<rect x="834" y="711" width="3" height="6" fill="#778899"/>
<rect x="842" y="716" width="3" height="1" fill="#778899"/>
<rect x="850" y="717" width="3" height="5" fill="#778899"/>
<rect x="858" y="717" width="3" height="10" fill="#778899"/>
<rect x="866" y="717" width="3" height="14" fill="#778899"/>
<rect x="874" y="717" width="3" height="18" fill="#778899"/>
<rect x="882" y="717" width="3" height="20" fill="#778899"/>
<rect x="890" y="717" width="3" height="23" fill="#778899"/>
<rect x="898" y="717" width="3" height="25" fill="#778899"/>
<rect x="906" y="717" width="3" height="26" fill="#778899"/>
<rect x="914" y="717" width="3" height="28" fill="#778899"/>
<rect x="922" y="717" width="3" height="28" fill="#778899"/>
<rect x="930" y="717" width="3" height="29" fill="#778899"/>
<rect x="938" y="717" width="3" height="30" fill="#778899"/>
<rect x="946" y="717" width="3" height="30" fill="#778899"/>
<rect x="954" y="717" width="3" height="31" fill="#778899"/>
<rect x="962" y="717" width="3" height="33" fill="#778899"/>
<rect x="970" y="717" width="3" height="35" fill="#778899"/>
<rect x="978" y="717" width="3" height="36" fill="#778899"/>
<rect x="986" y="717" width="3" height="37" fill="#778899"/>
<rect x="994" y="717" width="3" height="37" fill="#778899"/>
<rect x="1002" y="717" width="3" height="37" fill="#B8B8B8"/>
<rect x="1010" y="717" width="3" height="37" fill="#B8B8B8"/>
<rect x="1018" y="717" width="3" height="37" fill="#B8B8B8"/>
<rect x="1026" y="717" width="3" height="36" fill="#B8B8B8"/>
<rect x="1034" y="717" width="3" height="35" fill="#B8B8B8"/>
<rect x="1042" y="717" width="3" height="34" fill="#B8B8B8"/>
<rect x="1050" y="717" width="3" height="34" fill="#B8B8B8"/>
<rect x="1058" y="717" width="3" height="32" fill="#B8B8B8"/>
<rect x="1066" y="717" width="3" height="30" fill="#B8B8B8"/>
<rect x="1074" y="717" width="3" height="29" fill="#B8B8B8"/>
<rect x="1082" y="717" width="3" height="27" fill="#B8B8B8"/>
<rect x="1090" y="717" width="3" height="26" fill="#B8B8B8"/>
<rect x="1098" y="717" width="3" height="25" fill="#B8B8B8"/>
<rect x="1106" y="717" width="3" height="23" fill="#B8B8B8"/>
<rect x="1114" y="717" width="3" height="22" fill="#B8B8B8"/>
<rect x="1122" y="717" width="3" height="21" fill="#B8B8B8"/>
<rect x="1130" y="717" width="3" height="19" fill="#B8B8B8"/>
<rect x="1138" y="717" width="3" height="16" fill="#B8B8B8"/>
<rect x="1146" y="717" width="3" height="14" fill="#B8B8B8"/>
<rect x="1154" y="717" width="3" height="11" fill="#B8B8B8"/>
<rect x="1162" y="717" width="3" height="9" fill="#B8B8B8"/>
<rect x="1170" y="717" width="3" height="7" fill="#B8B8B8"/>
<rect x="1178" y="717" width="3" height="2" fill="#B8B8B8"/>
<rect x="1186" y="715" width="3" height="2" fill="#B8B8B8"/>
<rect x="1194" y="711" width="3" height="6" fill="#B8B8B8"/>
<rect x="1202" y="707" width="3" height="10" fill="#B8B8B8"/>
<rect x="1210" y="704" width="3" height="13" fill="#B8B8B8"/>
<rect x="1218" y="700" width="3" height="17" fill="#B8B8B8"/>
<rect x="1226" y="694" width="3" height="23" fill="#B8B8B8"/>
</g>
<rect x="3" y="648" width="1230" height="1" fill="#000"/>
<line x1="4" y1="648.5" x2="1233" y2="648.5" stroke="#D8D8D8" stroke-width="1" stroke-dasharray="3 3"/>
<path transform="translate(365.2,633.0)" d="M0.2,5.6 C0.8,4.6 1.6,4.6 2.2,5.2 L3.4,7.0 L10.6,-0.2 L11.6,0.6 L3.8,9.9 L3.0,10.1 Z" fill="#FF0000"/>
<text x="7.9" y="614.3" font-family="'Liberation Sans', Arial, sans-serif" font-size="9.6px" fill="#D8D8D8" textLength="104.4" lengthAdjust="spacingAndGlyphs">TmaSlope_Norm 0.16988</text>
<g font-family="'Liberation Sans', Arial, sans-serif" text-anchor="end" fill="#A8A8A8">
<text x="1227.3" y="658.1" font-size="17.4px" textLength="66.8" lengthAdjust="spacingAndGlyphs">H4 = 0.45</text>
<text x="1227.3" y="682.9" font-size="17.4px" textLength="71.9" lengthAdjust="spacingAndGlyphs">H1 = -0.00</text>
<text x="1227.3" y="707.9" font-size="17.4px" textLength="77.5" lengthAdjust="spacingAndGlyphs">M15 = 0.17</text>
<text x="1226.4" y="731.6" font-size="19px" fill="#FFFFFF" textLength="36.6" lengthAdjust="spacingAndGlyphs">0.17</text>
<text x="1228.8" y="756.8" font-size="20.6px" textLength="76" lengthAdjust="spacingAndGlyphs">Ranging</text>
</g>
<text x="7.9" y="757.4" font-family="'Liberation Sans', Arial, sans-serif" font-size="9.6px" fill="#D8D8D8" textLength="229.8" lengthAdjust="spacingAndGlyphs">FXCM MT4, &#169; 2001-2013, MetaQuotes Software Corp.</text>
</g>
<g shape-rendering="crispEdges" fill="#ABABAB">
<rect x="2" y="2" width="1232" height="1"/>
<rect x="2" y="2" width="1" height="598"/>
<rect x="1233" y="2" width="1" height="598"/>
<rect x="2" y="599" width="1232" height="1"/>
<rect x="2" y="601" width="1232" height="1"/>
<rect x="2" y="601" width="1" height="161"/>
<rect x="1233" y="601" width="1" height="161"/>
<rect x="2" y="761" width="1232" height="1"/>
<rect x="1234" y="22" width="2" height="1"/>
<rect x="1234" y="56" width="2" height="1"/>
<rect x="1234" y="90" width="2" height="1"/>
<rect x="1234" y="123" width="2" height="1"/>
<rect x="1234" y="157" width="2" height="1"/>
<rect x="1234" y="191" width="2" height="1"/>
<rect x="1234" y="225" width="2" height="1"/>
<rect x="1234" y="258" width="2" height="1"/>
<rect x="1234" y="292" width="2" height="1"/>
<rect x="1234" y="326" width="2" height="1"/>
<rect x="1234" y="360" width="2" height="1"/>
<rect x="1234" y="393" width="2" height="1"/>
<rect x="1234" y="427" width="2" height="1"/>
<rect x="1234" y="461" width="2" height="1"/>
<rect x="1234" y="495" width="2" height="1"/>
<rect x="1234" y="528" width="2" height="1"/>
<rect x="1234" y="562" width="2" height="1"/>
<rect x="1234" y="596" width="2" height="1"/>
<rect x="1234" y="603" width="2" height="1"/>
<rect x="1234" y="648" width="2" height="1"/>
<rect x="1234" y="717" width="2" height="1"/>
<rect x="1234" y="756" width="2" height="1"/>
<rect x="3" y="762" width="1" height="3"/>
<rect x="67" y="762" width="1" height="3"/>
<rect x="131" y="762" width="1" height="3"/>
<rect x="195" y="762" width="1" height="3"/>
<rect x="259" y="762" width="1" height="3"/>
<rect x="323" y="762" width="1" height="3"/>
<rect x="387" y="762" width="1" height="3"/>
<rect x="451" y="762" width="1" height="3"/>
<rect x="515" y="762" width="1" height="3"/>
<rect x="579" y="762" width="1" height="3"/>
<rect x="643" y="762" width="1" height="3"/>
<rect x="707" y="762" width="1" height="3"/>
<rect x="771" y="762" width="1" height="3"/>
<rect x="835" y="762" width="1" height="3"/>
<rect x="899" y="762" width="1" height="3"/>
<rect x="963" y="762" width="1" height="3"/>
<rect x="1027" y="762" width="1" height="3"/>
<rect x="1091" y="762" width="1" height="3"/>
<rect x="1155" y="762" width="1" height="3"/>
<rect x="1219" y="762" width="1" height="3"/>
</g>
<g font-family="'Liberation Sans', Arial, sans-serif" font-size="9.4px" fill="#DCDCDC">
<text x="1239.4" y="25.0" font-size="10.2px" textLength="32.3" lengthAdjust="spacingAndGlyphs">1.33890</text>
<text x="1239.4" y="59.0" font-size="10.2px" textLength="32.3" lengthAdjust="spacingAndGlyphs">1.33815</text>
<text x="1239.4" y="93.0" font-size="10.2px" textLength="32.3" lengthAdjust="spacingAndGlyphs">1.33740</text>
<text x="1239.4" y="126.0" font-size="10.2px" textLength="32.3" lengthAdjust="spacingAndGlyphs">1.33665</text>
<text x="1239.4" y="160.0" font-size="10.2px" textLength="32.3" lengthAdjust="spacingAndGlyphs">1.33590</text>
<text x="1239.4" y="194.0" font-size="10.2px" textLength="32.3" lengthAdjust="spacingAndGlyphs">1.33515</text>
<text x="1239.4" y="261.0" font-size="10.2px" textLength="32.3" lengthAdjust="spacingAndGlyphs">1.33365</text>
<text x="1239.4" y="295.0" font-size="10.2px" textLength="32.3" lengthAdjust="spacingAndGlyphs">1.33290</text>
<text x="1239.4" y="329.0" font-size="10.2px" textLength="32.3" lengthAdjust="spacingAndGlyphs">1.33215</text>
<text x="1239.4" y="363.0" font-size="10.2px" textLength="32.3" lengthAdjust="spacingAndGlyphs">1.33140</text>
<text x="1239.4" y="396.0" font-size="10.2px" textLength="32.3" lengthAdjust="spacingAndGlyphs">1.33065</text>
<text x="1239.4" y="430.0" font-size="10.2px" textLength="32.3" lengthAdjust="spacingAndGlyphs">1.32990</text>
<text x="1239.4" y="464.0" font-size="10.2px" textLength="32.3" lengthAdjust="spacingAndGlyphs">1.32915</text>
<text x="1239.4" y="498.0" font-size="10.2px" textLength="32.3" lengthAdjust="spacingAndGlyphs">1.32840</text>
<text x="1239.4" y="531.0" font-size="10.2px" textLength="32.3" lengthAdjust="spacingAndGlyphs">1.32765</text>
<text x="1239.4" y="565.0" font-size="10.2px" textLength="32.3" lengthAdjust="spacingAndGlyphs">1.32690</text>
<text x="1239.4" y="599.0" font-size="10.2px" textLength="32.3" lengthAdjust="spacingAndGlyphs">1.32615</text>
<text x="1237.1" y="612" textLength="32.7" lengthAdjust="spacingAndGlyphs">0.82479</text>
<text x="1236" y="651" >0.5</text>
<text x="1236" y="719.3">0.00</text>
<text x="1235" y="757.6">-0.31201</text>
<text x="3" y="774" font-size="9.1px">12 Jun 2013</text>
<text x="67" y="774" font-size="9.1px">12 Jun 02:30</text>
<text x="131" y="774" font-size="9.1px">12 Jun 04:30</text>
<text x="195" y="774" font-size="9.1px">12 Jun 06:30</text>
<text x="259" y="774" font-size="9.1px">12 Jun 08:30</text>
<text x="323" y="774" font-size="9.1px">12 Jun 10:30</text>
<text x="387" y="774" font-size="9.1px">12 Jun 12:30</text>
<text x="451" y="774" font-size="9.1px">12 Jun 14:30</text>
<text x="515" y="774" font-size="9.1px">12 Jun 16:30</text>
<text x="579" y="774" font-size="9.1px">12 Jun 18:30</text>
<text x="643" y="774" font-size="9.1px">12 Jun 20:30</text>
<text x="707" y="774" font-size="9.1px">12 Jun 22:30</text>
<text x="771" y="774" font-size="9.1px">13 Jun 00:30</text>
<text x="835" y="774" font-size="9.1px">13 Jun 02:30</text>
<text x="899" y="774" font-size="9.1px">13 Jun 04:30</text>
<text x="963" y="774" font-size="9.1px">13 Jun 06:30</text>
<text x="1027" y="774" font-size="9.1px">13 Jun 08:30</text>
<text x="1091" y="774" font-size="9.1px">13 Jun 10:30</text>
<text x="1155" y="774" font-size="9.1px">13 Jun 12:30</text>
<text x="1219" y="774" font-size="9.1px">13 Jun 14:30</text>
</g>
<path d="M1233,225.5 L1236,222 L1236,229 Z" fill="#C0C0C0"/>
<rect x="1235" y="219" width="41" height="11" fill="#C0C0C0"/>
<text x="1239.4" y="228.2" font-family="'Liberation Sans', Arial, sans-serif" font-size="9.4px" fill="#000" textLength="32.3" lengthAdjust="spacingAndGlyphs">1.33438</text>
</svg>
</body></html>
